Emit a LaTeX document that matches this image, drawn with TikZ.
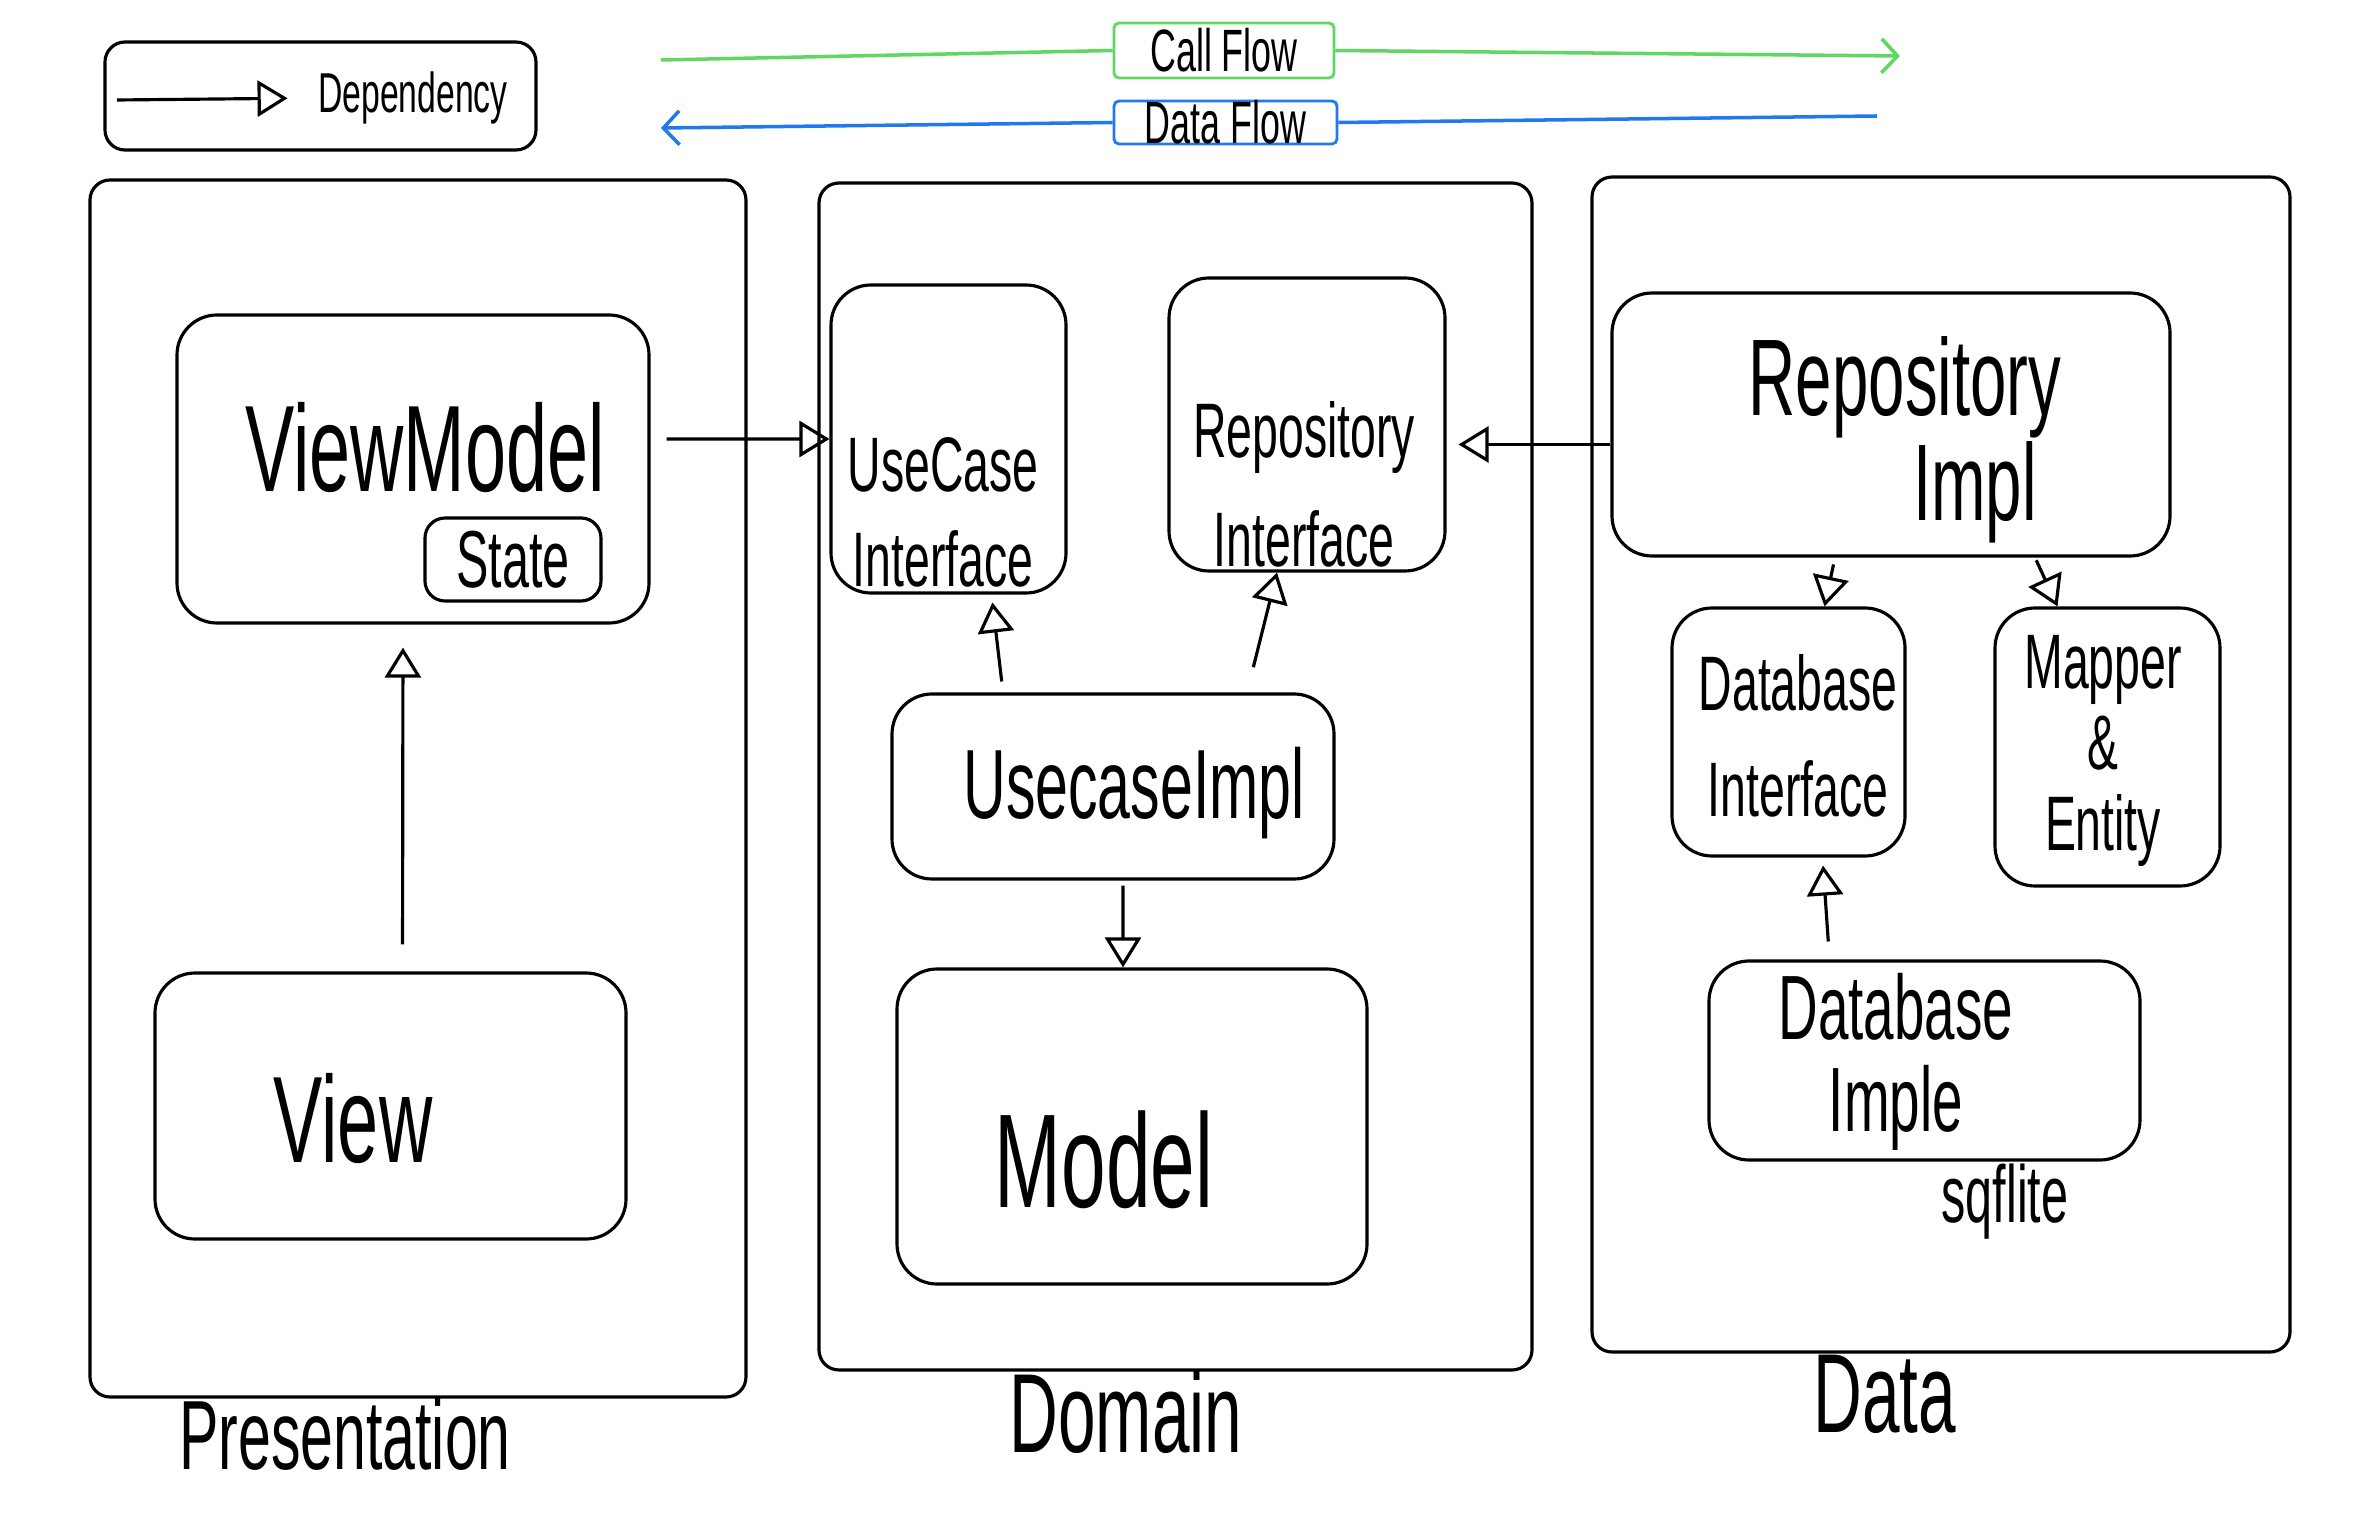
\documentclass[tikz,border=0pt]{standalone}
\usepackage{fontspec}
\usetikzlibrary{arrows.meta}
\newfontfamily\handfont[FakeStretch=0.6]{Liberation Sans}
\definecolor{callgreen}{RGB}{98,214,98}
\definecolor{datablue}{RGB}{32,122,238}

\begin{document}
\begin{tikzpicture}[auto,
    layer/.style ={draw, line width=0.9pt, rounded corners=2mm, inner sep=0pt},
    part/.style ={draw, line width=0.9pt, rounded corners=4mm, inner sep=0pt},
    flowbox/.style ={draw, line width=0.8pt, rounded corners=0.5mm, inner sep=0pt},
    hand/.style ={font=\handfont, align=center, inner sep=0pt},
    dep/.style ={draw, line width=0.9pt, -{Triangle[open, length=3mm, width=3.6mm]}},
    flow/.style ={line width=1pt, -{Straight Barb[length=1.6mm, width=3.4mm]}}]
   \useasboundingbox (0,0) rectangle (23.55,-15.16);

   \node[layer, minimum width=4.31cm, minimum height=1.08cm] (legend) at (3.205,-0.96) {};
   \node[hand, font=\handfont\fontsize{16}{17}\selectfont] (deptext) at (4.13,-0.98) {Dependency};
   \coordinate (deptail) at (1.17,-1.0);
   \draw[dep, shorten >=3mm] (deptail) -- (deptext.west);

   \node[flowbox, draw=callgreen, minimum width=2.2cm, minimum height=0.55cm] (callflow) at (12.24,-0.505) {};
   \node[hand, font=\handfont\fontsize{17}{17}\selectfont] (calltext) at (callflow) {Call Flow};
   \node[flowbox, draw=datablue, minimum width=2.23cm, minimum height=0.43cm] (dataflow) at (12.255,-1.225) {};
   \node[hand, font=\handfont\fontsize{17}{17}\selectfont] (datatext) at (dataflow) {Data Flow};
   \coordinate (callstart) at (6.61,-0.60);
   \coordinate (callend) at (19.00,-0.56);
   \coordinate (datastart) at (18.77,-1.16);
   \coordinate (dataend) at (6.61,-1.28);
   \draw[line width=1pt, callgreen] (callstart) -- (callflow.west);
   \draw[flow, callgreen] (callflow.east) -- (callend);
   \draw[line width=1pt, datablue] (datastart) -- (dataflow.east);
   \draw[flow, datablue] (dataflow.west) -- (dataend);

   \node[layer, minimum width=6.56cm, minimum height=12.17cm] (presentation) at (4.18,-7.885) {};
   \node[layer, minimum width=7.13cm, minimum height=11.87cm] (domain) at (11.755,-7.765) {};
   \node[layer, minimum width=6.98cm, minimum height=11.75cm] (data) at (19.41,-7.645) {};
   \node[hand, font=\handfont\fontsize{28}{28}\selectfont] (presentationtext) at (3.45,-14.34) {Presentation};
   \node[hand, font=\handfont\fontsize{32}{32}\selectfont] (domaintext) at (11.26,-14.12) {Domain};
   \node[hand, font=\handfont\fontsize{32}{32}\selectfont] (datatitle) at (18.85,-13.94) {Data};

   \node[part, minimum width=4.72cm, minimum height=3.08cm] (viewmodel) at (4.13,-4.69) {};
   \node[hand, font=\handfont\fontsize{35}{35}\selectfont] (viewmodeltext) at (4.25,-4.48) {ViewModel};
   \node[part, rounded corners=2mm, minimum width=1.76cm, minimum height=0.83cm] (state) at (5.13,-5.595) {};
   \node[hand, font=\handfont\fontsize{23}{23}\selectfont] (statetext) at (state) {State};
   \node[part, minimum width=4.71cm, minimum height=2.66cm] (view) at (3.905,-11.06) {};
   \node[hand, font=\handfont\fontsize{35}{35}\selectfont] (viewtext) at (3.53,-11.19) {View};

   \node[part, minimum width=2.35cm, minimum height=3.08cm] (usecaseif) at (9.485,-4.39) {};
   \node[hand, font=\handfont\fontsize{22}{27}\selectfont] (usecaseiftext) at (9.43,-5.12) {UseCase\\Interface};
   \node[part, minimum width=2.76cm, minimum height=2.93cm] (repoif) at (13.07,-4.245) {};
   \node[hand, font=\handfont\fontsize{22}{31}\selectfont] (repoiftext) at (13.04,-4.84) {Repository\\Interface};
   \node[part, minimum width=4.42cm, minimum height=1.85cm] (usecaseimpl) at (11.13,-7.865) {};
   \node[hand, font=\handfont\fontsize{28}{28}\selectfont] (usecaseimpltext) at (11.34,-7.93) {UsecaseImpl};
   \node[part, minimum width=4.7cm, minimum height=3.15cm] (model) at (11.32,-11.265) {};
   \node[hand, font=\handfont\fontsize{38}{38}\selectfont] (modeltext) at (11.04,-11.6) {Model};

   \node[part, minimum width=5.58cm, minimum height=2.63cm] (repoimpl) at (18.91,-4.245) {};
   \node[hand, font=\handfont\fontsize{31}{27}\selectfont] (repoimpltext) at (19.05,-4.40) {Repository\\\hspace*{1.4cm}Impl};
   \node[part, minimum width=2.33cm, minimum height=2.48cm] (dbif) at (17.885,-7.32) {};
   \node[hand, font=\handfont\fontsize{22}{30}\selectfont] (dbiftext) at (17.98,-7.36) {Database\\Interface};
   \node[part, minimum width=2.25cm, minimum height=2.78cm] (mapper) at (21.075,-7.47) {};
   \node[hand, font=\handfont\fontsize{22}{23}\selectfont] (mappertext) at (21.03,-7.51) {Mapper\\\&\\Entity};
   \node[part, minimum width=4.31cm, minimum height=1.99cm] (dbimpl) at (19.245,-10.605) {};
   \node[hand, font=\handfont\fontsize{26}{26}\selectfont] (dbimpltext) at (18.96,-10.62) {Database\\Imple};
   \node[hand, font=\handfont\fontsize{23}{23}\selectfont] (sqflite) at (20.05,-12.02) {sqflite};

   \draw[dep, shorten <=2.7mm, shorten >=2.3mm] ([xshift=1.2mm]view.north) -- ([xshift=-1mm]viewmodel.south);
   \draw[dep, shorten <=1.6mm] ([yshift=3mm]viewmodel.east) -- (usecaseif.west);
   \draw[dep, shorten <=1.1mm, shorten >=0.8mm] ([xshift=-11mm]usecaseimpl.north) -- ([xshift=4.3mm]usecaseif.south);
   \draw[dep, shorten <=2.6mm] ([xshift=13.4mm]usecaseimpl.north) -- ([xshift=-3mm]repoif.south);
   \draw[dep, shorten <=0.5mm] ([xshift=1mm]usecaseimpl.south) -- ([xshift=-0.9mm]model.north);
   \draw[dep, shorten >=1.2mm] ([yshift=-2mm]repoimpl.west) -- ([yshift=-2mm]repoif.east);
   \draw[dep, shorten <=0.7mm] ([xshift=-5.6mm]repoimpl.south) -- ([xshift=3.6mm]dbif.north);
   \draw[dep, shorten <=0.3mm] ([xshift=14.4mm]repoimpl.south) -- ([xshift=-5mm]mapper.north);
   \draw[dep, shorten <=1.8mm, shorten >=0.8mm] ([xshift=-9.5mm]dbimpl.north) -- ([xshift=3.4mm]dbif.south);
 \end{tikzpicture}
\end{document}
